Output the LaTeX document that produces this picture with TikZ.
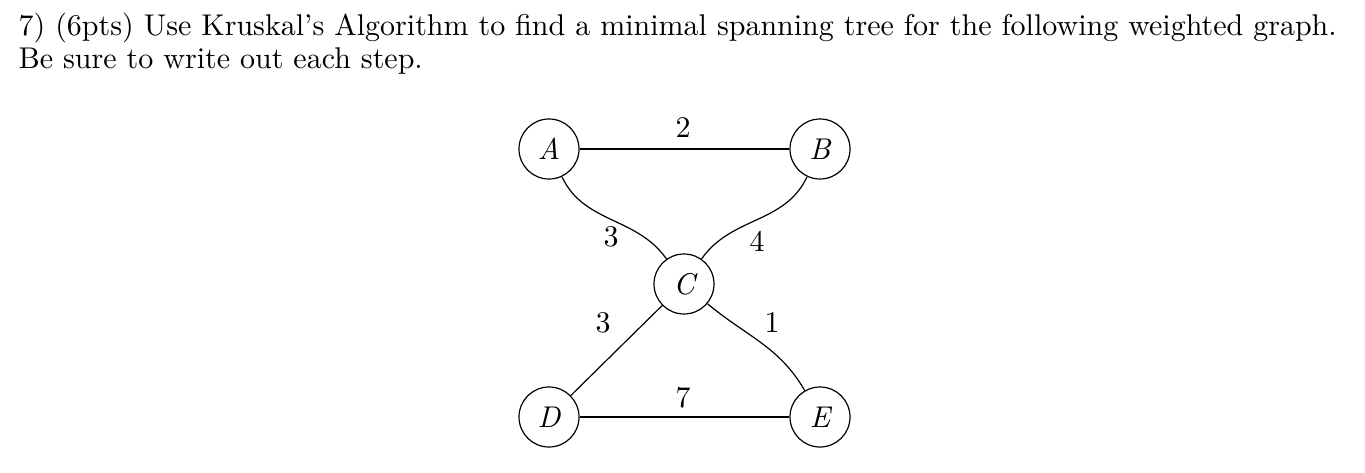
\documentclass[tikz,border=0pt]{standalone}
\begin{document}
\begin{tikzpicture}[x=0.3333pt,y=-0.3333pt,
  vtx/.style={draw,circle,minimum size=20pt,inner sep=0pt,font=\itshape},
  wt/.style={inner sep=1pt},
  txt/.style={anchor=base west,inner sep=0pt}]
\useasboundingbox (0,0) rectangle (1365,472);
\node[txt] (l1) at (18,35) {7) (6pts) Use Kruskal's Algorithm to find a minimal spanning tree for the following weighted graph.};
\node[txt] (l2) at (18,68) {Be sure to write out each step.};
\node[vtx] (A) at (549,149) {A};
\node[vtx] (B) at (820,149) {B};
\node[vtx] (C) at (684,284) {C};
\node[vtx] (D) at (549,417) {D};
\node[vtx] (E) at (820,417) {E};
\draw (A) -- (B);
\draw (A) to[out=-65,in=125] (C);
\draw (B) to[out=-115,in=55] (C);
\draw (C) -- (D);
\draw (C) to[out=-40,in=120] (E);
\draw (D) -- (E);
\node[wt] (w1) at (683,128) {2};
\node[wt] (w2) at (611,237) {3};
\node[wt] (w3) at (757,241) {4};
\node[wt] (w4) at (603,323) {3};
\node[wt] (w5) at (772,323) {1};
\node[wt] (w6) at (683,398) {7};
\end{tikzpicture}
\end{document}
